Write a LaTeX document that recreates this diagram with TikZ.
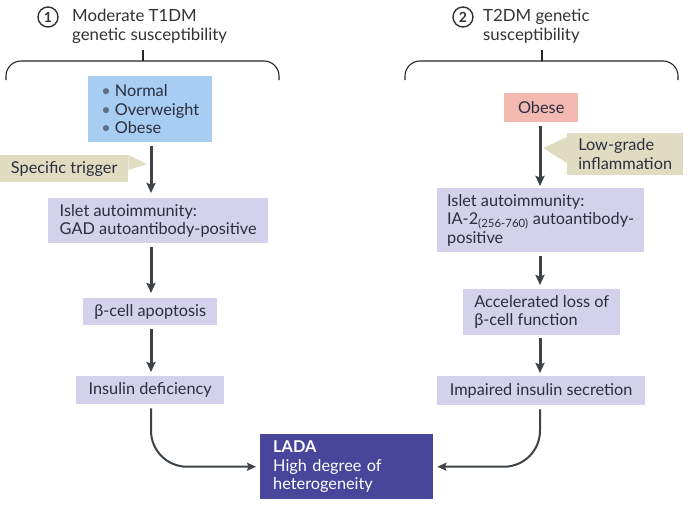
\documentclass[tikz,border=0pt]{standalone}
\usepackage{fontspec}
\setmainfont{Lato}
\usetikzlibrary{arrows.meta,calc}
\definecolor{lav}{HTML}{D4D1ED}
\definecolor{skyb}{HTML}{A8CDF2}
\definecolor{tanc}{HTML}{E0DCC2}
\definecolor{pinkc}{HTML}{F3B9B1}
\definecolor{ladac}{HTML}{47469B}
\definecolor{arrc}{HTML}{3D4347}
\definecolor{txt}{HTML}{2B2E3E}
\definecolor{hdr}{HTML}{333333}
\definecolor{bul}{HTML}{5F6F86}
\begin{document}
\begin{tikzpicture}[x=1pt,y=-1pt,
  bx/.style={anchor=north west, inner xsep=0pt, inner ysep=0pt, align=left, text=txt,
    font=\fontsize{16.3}{18.3}\selectfont},
  hdrtext/.style={anchor=north west, inner sep=0pt, align=left, text=hdr,
    font=\fontsize{16.8}{19}\selectfont},
  num/.style={circle, draw=hdr, line width=1.4pt, minimum size=20pt, inner sep=0pt,
    text=hdr, font=\fontsize{14}{14}\selectfont\bfseries},
  brk/.style={draw=black!85, line width=1.1pt, rounded corners=15pt},
  arr/.style={draw=arrc, line width=3pt, -{Stealth[length=10pt,width=9pt,inset=1.5pt]}},
  conn/.style={draw=arrc, line width=2pt, -{Stealth[length=9pt,width=8pt,inset=1.5pt]}}]
\useasboundingbox (0,0) rectangle (691,506);
\fill[white] (0,0) rectangle (691,506);
\coordinate (cL) at (151,0);
\coordinate (cR) at (540,0);

% headers
\node[num] (n1) at (48,17) {1};
\node[hdrtext] (h1) at (72,9) {Moderate T1DM\\genetic susceptibility};
\node[num] (n2) at (463,17) {2};
\node[hdrtext] (h2) at (483,9) {T2DM genetic\\susceptibility};

% brackets
\draw[brk] (6,80) -- (6,61) -- (279,61) -- (279,80);
\draw[draw=black!85, line width=1.1pt] (143,50) -- (143,61);
\draw[brk] (405,80) -- (405,61) -- (678,61) -- (678,80);
\draw[draw=black!85, line width=1.1pt] (542,50) -- (542,61);

% left column
\node[bx, fill=skyb, minimum width=124pt, minimum height=66pt] (blue) at (88,76)
  {{\color{bul}•} Normal\\{\color{bul}•} Overweight\\{\color{bul}•} Obese};
\node[bx, fill=tanc, minimum width=128pt, minimum height=27pt] (trig) at (0,155) {Specific trigger};
\coordinate (trigtip) at (147,164);
\fill[tanc] (trig.north east) -- (trigtip) -- ($(trig.north east)+(0,15)$) -- cycle;
\node[bx, fill=lav, minimum width=220pt, minimum height=45pt] (isl1) at (48,198)
  {Islet autoimmunity:\\GAD autoantibody-positive};
\node[bx, fill=lav, minimum width=134pt, minimum height=27pt] (beta) at (83,298) {β-cell apoptosis};
\node[bx, fill=lav, minimum width=148pt, minimum height=28pt] (ins) at (76,376) {Insulin deficiency};

% LADA
\node[bx, fill=ladac, text=white, text width=147pt, inner xsep=13pt, minimum height=65pt] (lada) at (260,434)
  {\textbf{LADA}\\High degree of\\heterogeneity};

% right column
\node[bx, fill=pinkc, minimum width=74pt, minimum height=29pt] (obese) at (504,93) {Obese};
\node[bx, fill=tanc, minimum width=116pt, minimum height=42pt] (low) at (567,133) {Low-grade\\inflammation};
\coordinate (lowtip) at (543,148);
\fill[tanc] ($(low.north west)+(0,4)$) -- (lowtip) -- ($(low.north west)+(0,30)$) -- cycle;
\node[bx, fill=lav, minimum width=207pt, minimum height=64pt] (isl2) at (437,188)
  {Islet autoimmunity:\\IA-2\textsubscript{(256-760)} autoantibody-\\positive};
\node[bx, fill=lav, minimum width=157pt, minimum height=46pt] (acc) at (463,289)
  {Accelerated loss of\\β-cell function};
\node[bx, fill=lav, minimum width=208pt, minimum height=29pt] (imp) at (437,376) {Impaired insulin secretion};

% arrows left
\draw[arr, shorten <=4pt, shorten >=5pt] (blue.south -| cL) -- (isl1.north -| cL);
\draw[arr, shorten <=4pt, shorten >=5pt] (isl1.south -| cL) -- (beta.north -| cL);
\draw[arr, shorten <=4pt, shorten >=4pt] (beta.south -| cL) -- (ins.north -| cL);
% arrows right
\draw[arr, shorten <=4pt, shorten >=2pt] (obese.south -| cR) -- (isl2.north -| cR);
\draw[arr, shorten <=4pt, shorten >=4pt] (isl2.south -| cR) -- (acc.north -| cR);
\draw[arr, shorten <=3pt, shorten >=3pt] (acc.south -| cR) -- (imp.north -| cR);
% to LADA
\draw[conn, rounded corners=36pt, shorten <=4pt, shorten >=4pt] (ins.south -| cL) |- (lada.west);
\draw[conn, rounded corners=36pt, shorten <=4pt, shorten >=4pt] (imp.south -| cR) |- (lada.east);
\end{tikzpicture}
\end{document}
